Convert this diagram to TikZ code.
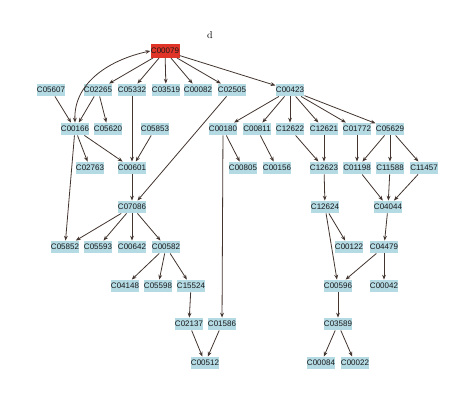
\documentclass[tikz,border=0pt]{standalone}
\usepackage{fontspec}
\setsansfont{Liberation Sans}
\usetikzlibrary{arrows.meta}
\tikzset{>={Stealth[length=4.8pt,width=3.8pt]}}
\definecolor{boxblue}{RGB}{180,218,228}
\definecolor{boxred}{RGB}{224,52,40}
\definecolor{edgebrown}{RGB}{66,52,46}
\begin{document}
\begin{tikzpicture}
[x=1pt, y=-1pt,
cbox/.style={fill=boxblue, inner sep=0.3pt, minimum width=28pt, minimum height=12.5pt, text=black!90, font=\sffamily\fontsize{8}{9}\selectfont},
rootbox/.style={cbox, fill=boxred, minimum width=29pt, minimum height=13.5pt}]
\useasboundingbox (0,0) rectangle (474,415);
\node[font=\fontsize{10}{11}\selectfont] (title) at (210,35) {d};
\node[rootbox] (c00079) at (165,51) {C00079};
% compound nodes, row by row
\foreach \n/\x/\y in {
05607/51/90, 02265/98/90, 05332/132/90, 03519/166/90, 00082/198/90, 02505/232/90, 00423/290/90,
00166/75/129, 05620/108/129, 05853/155/129, 00180/223/129, 00811/257/129, 12622/290/129, 12621/324/129, 01772/357/129, 05629/390/129,
02763/90/168, 00601/132/168, 00805/243/168, 00156/277/168, 12623/324/168, 01198/357/168, 11588/390/168, 11457/424/168,
07086/132/207, 12624/325/207, 04044/388/207,
05852/65/247, 05593/98/247, 00642/132/247, 00582/166/247, 00122/349/247, 04479/384/247,
04148/125/286, 05598/158/286, 15524/191/286, 00596/338/286, 00042/384/286,
02137/189/324, 01586/222/324, 03589/338/324,
00512/205/363, 00084/321/363, 00022/355/363}
\node[cbox] (c\n) at (\x,\y) {C\n};
\path[->, color=edgebrown, line width=0.8pt]
(c00079)
edge (c02265) edge (c05332) edge (c03519) edge (c00082) edge (c02505) edge (c00423)
(c00166.north) edge[<->, out=92, in=192] (c00079.west)
(c05607) edge (c00166)
(c02265) edge (c00166) edge (c05620)
(c05332) edge (c00601)
(c05853) edge (c00601)
(c00166) edge (c02763) edge (c00601) edge (c05852)
(c02505) edge (c07086)
(c00601) edge (c07086)
(c07086) edge (c05852) edge (c05593) edge (c00642) edge (c00582)
(c00582) edge (c04148) edge (c05598) edge (c15524)
(c15524) edge (c02137)
(c02137) edge (c00512)
(c01586) edge (c00512)
(c00180) edge (c01586) edge (c00805)
(c00811) edge (c00156)
(c00423) edge (c00180) edge (c00811) edge (c12622) edge (c12621) edge (c01772) edge (c05629)
(c12622) edge (c12623)
(c12621) edge (c12623)
(c01772) edge (c01198)
(c05629) edge (c01198) edge (c11588) edge (c11457)
(c12623) edge (c12624)
(c01198) edge (c04044)
(c11588) edge (c04044)
(c11457) edge (c04044)
(c12624) edge (c00122) edge (c00596)
(c04044) edge (c04479)
(c04479) edge (c00596) edge (c00042)
(c00596) edge (c03589)
(c03589) edge (c00084) edge (c00022)
;
\end{tikzpicture}
\end{document}
